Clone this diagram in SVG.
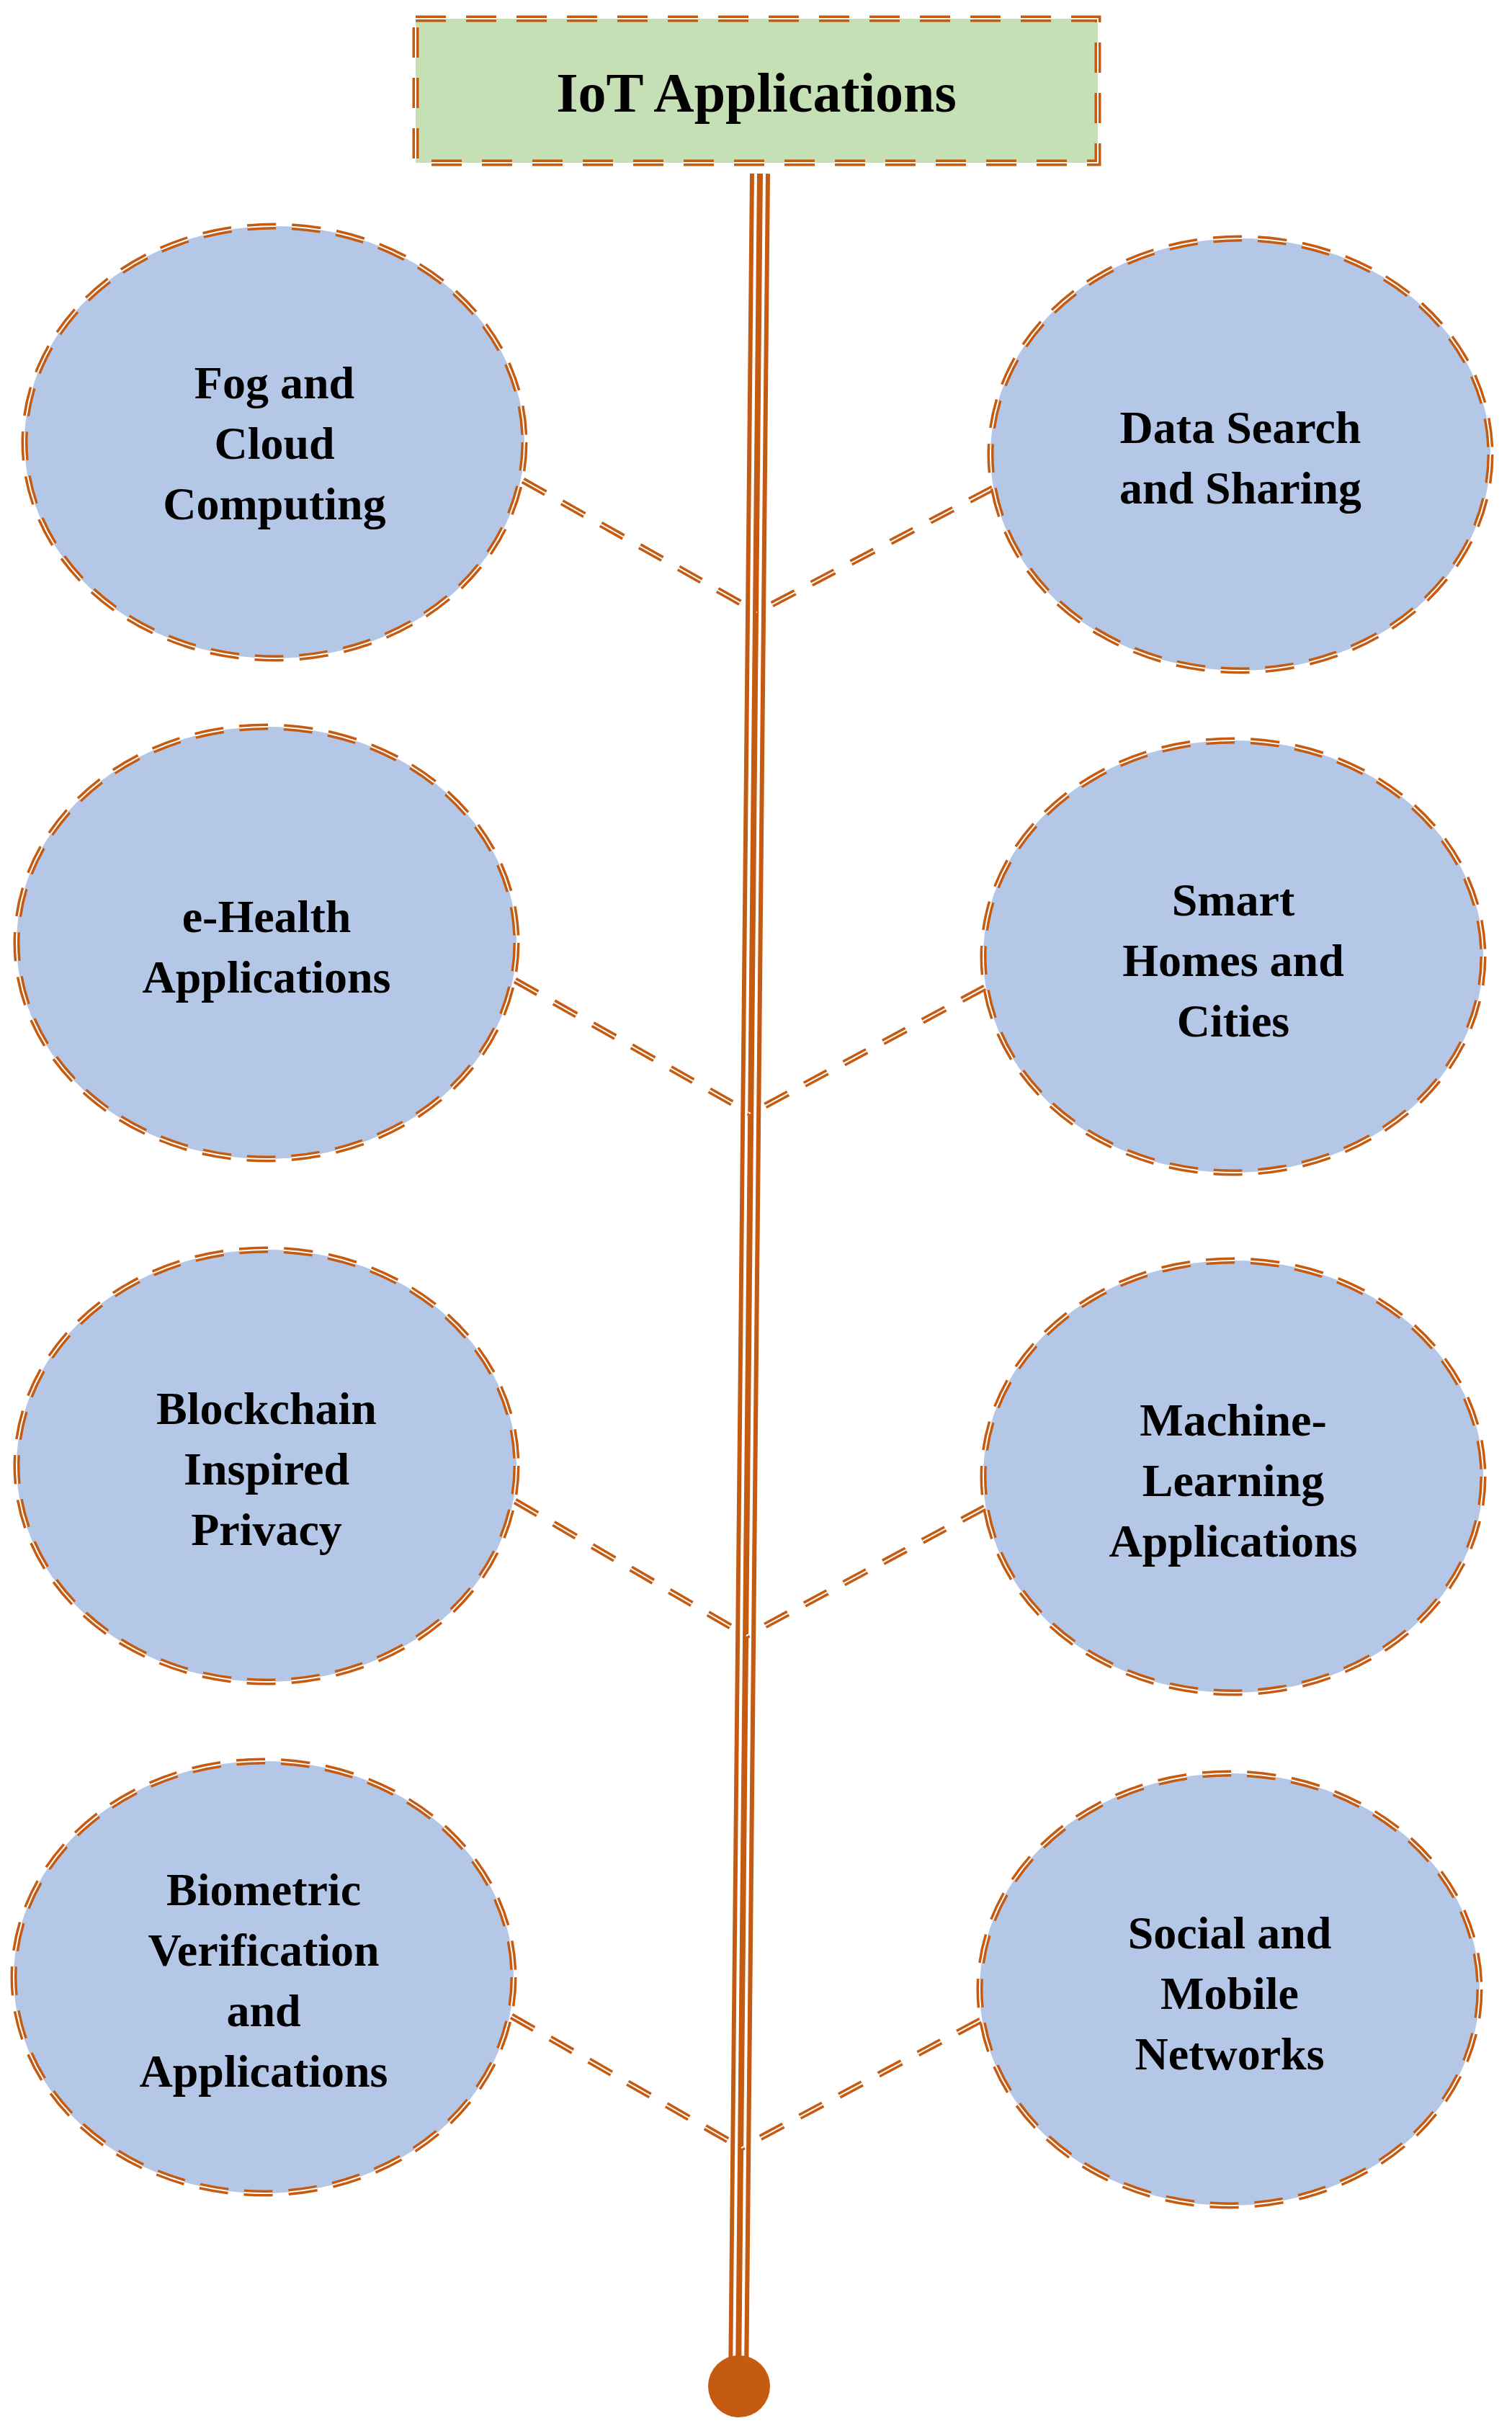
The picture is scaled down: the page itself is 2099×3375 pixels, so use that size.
<svg xmlns="http://www.w3.org/2000/svg" width="2099" height="3375" viewBox="0 0 2099 3375">
<style>
.e{fill:#B4C7E7;stroke:#C55A11;stroke-width:9;stroke-dasharray:40 22}
.ei{fill:none;stroke:#fff;stroke-width:2;stroke-dasharray:40 22}
.t{font-family:"Liberation Serif",serif;font-weight:bold;font-size:64px;text-anchor:middle;fill:#000}
.c{stroke:#C55A11;stroke-width:9;stroke-dasharray:36 26;fill:none}
.ci{stroke:#fff;stroke-width:2;stroke-dasharray:36 26;fill:none}
</style>
<g id="connectors">
<path d="M1055 241 L1025 3313" stroke="#C55A11" stroke-width="28" fill="none"/>
<path d="M1049 241 L1019 3300 M1061 241 L1031 3300" stroke="#fff" stroke-width="4" fill="none"/>
<circle cx="1026" cy="3313" r="43" fill="#C55A11"/>
<g>
<path class="c" d="M726 667 L1051 850 M1378 678 L1051 850 M715 1361 L1042 1546 M1367 1371 L1042 1546 M715 2084 L1036 2271 M1367 2093 L1036 2271 M710 2799 L1029 2982 M1361 2805 L1029 2982"/>
<path class="ci" d="M726 667 L1051 850 M1378 678 L1051 850 M715 1361 L1042 1546 M1367 1371 L1042 1546 M715 2084 L1036 2271 M1367 2093 L1036 2271 M710 2799 L1029 2982 M1361 2805 L1029 2982"/>
</g>
</g>
<g id="title">
<rect x="577" y="26" width="947" height="200" fill="#C5E0B4" stroke="#C55A11" stroke-width="9" stroke-dasharray="42 28"/>
<rect x="577" y="26" width="947" height="200" fill="none" stroke="#fff" stroke-width="2" stroke-dasharray="42 28"/>
<text x="1050" y="155" class="t" font-size="78" style="font-size:78px">IoT Applications</text>
</g>
<g id="n1"><ellipse class="e" cx="381" cy="614" rx="347" ry="300"/><ellipse class="ei" cx="381" cy="614" rx="347" ry="300"/>
<text class="t" x="381"><tspan x="381" y="553">Fog and</tspan><tspan x="381" y="637">Cloud</tspan><tspan x="381" y="721">Computing</tspan></text></g>
<g id="n2"><ellipse class="e" cx="1722" cy="631" rx="347" ry="300"/><ellipse class="ei" cx="1722" cy="631" rx="347" ry="300"/>
<text class="t"><tspan x="1722" y="615">Data Search</tspan><tspan x="1722" y="699">and Sharing</tspan></text></g>
<g id="n3"><ellipse class="e" cx="370" cy="1309" rx="347" ry="300"/><ellipse class="ei" cx="370" cy="1309" rx="347" ry="300"/>
<text class="t"><tspan x="370" y="1294">e-Health</tspan><tspan x="370" y="1378">Applications</tspan></text></g>
<g id="n4"><ellipse class="e" cx="1712" cy="1328" rx="347" ry="300"/><ellipse class="ei" cx="1712" cy="1328" rx="347" ry="300"/>
<text class="t"><tspan x="1712" y="1271">Smart</tspan><tspan x="1712" y="1355">Homes and</tspan><tspan x="1712" y="1439">Cities</tspan></text></g>
<g id="n5"><ellipse class="e" cx="370" cy="2035" rx="347" ry="300"/><ellipse class="ei" cx="370" cy="2035" rx="347" ry="300"/>
<text class="t"><tspan x="370" y="1977">Blockchain</tspan><tspan x="370" y="2061">Inspired</tspan><tspan x="370" y="2145">Privacy</tspan></text></g>
<g id="n6"><ellipse class="e" cx="1712" cy="2050" rx="347" ry="300"/><ellipse class="ei" cx="1712" cy="2050" rx="347" ry="300"/>
<text class="t"><tspan x="1712" y="1993">Machine-</tspan><tspan x="1712" y="2077">Learning</tspan><tspan x="1712" y="2161">Applications</tspan></text></g>
<g id="n7"><ellipse class="e" cx="366" cy="2745" rx="347" ry="300"/><ellipse class="ei" cx="366" cy="2745" rx="347" ry="300"/>
<text class="t"><tspan x="366" y="2645">Biometric</tspan><tspan x="366" y="2729">Verification</tspan><tspan x="366" y="2813">and</tspan><tspan x="366" y="2897">Applications</tspan></text></g>
<g id="n8"><ellipse class="e" cx="1707" cy="2762" rx="347" ry="300"/><ellipse class="ei" cx="1707" cy="2762" rx="347" ry="300"/>
<text class="t"><tspan x="1707" y="2705">Social and</tspan><tspan x="1707" y="2789">Mobile</tspan><tspan x="1707" y="2873">Networks</tspan></text></g>
</svg>
